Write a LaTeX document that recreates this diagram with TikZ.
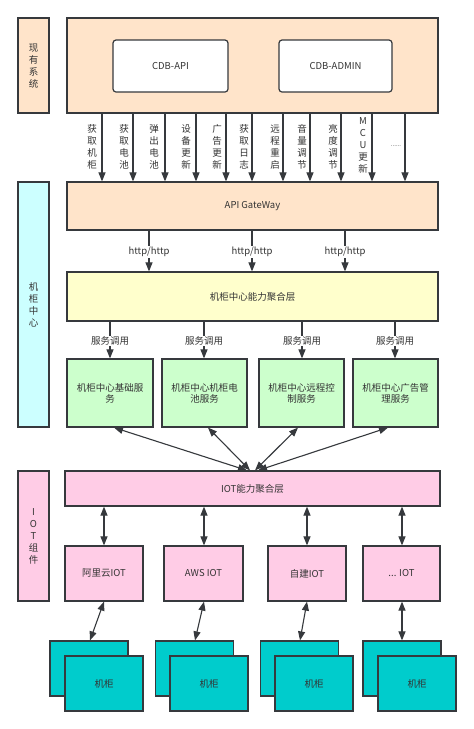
\documentclass[tikz,border=0pt]{standalone}
\usepackage{fontspec}
\setmainfont{Noto Sans CJK SC}
\usetikzlibrary{arrows.meta}
\definecolor{bd}{HTML}{36393D}
\definecolor{tx}{HTML}{333333}
\definecolor{peach}{HTML}{FFE4CA}
\definecolor{cyanl}{HTML}{CCFFFF}
\definecolor{yell}{HTML}{FFFFCC}
\definecolor{greenl}{HTML}{CCFFCC}
\definecolor{pinkl}{HTML}{FFCCE6}
\definecolor{teal2}{HTML}{00CCCC}
\tikzset{
  bx/.style={draw=bd, line width=1.2pt, inner sep=0pt, text=tx, align=center,
    font=\fontsize{9.5}{11}\selectfont},
  vlab/.style={text=tx, inner sep=1pt, align=center, font=\fontsize{9.5}{12}\selectfont},
  lab/.style={text=tx, fill=white, inner sep=1pt, font=\fontsize{9.5}{11}\selectfont},
  arr/.style={draw=bd, line width=1.1pt, -{Triangle[length=9pt,width=7pt]}},
  darr/.style={draw=bd, line width=1.1pt, {Triangle[length=9pt,width=7pt]}-{Triangle[length=9pt,width=7pt]}},
}
\begin{document}
\begin{tikzpicture}[x=1pt,y=-1pt]
\useasboundingbox[fill=white] (0,0) rectangle (474,729);
% --- left labels
\node[bx, fill=peach, minimum width=31pt, minimum height=95pt] (sys) at (33.5,65.5) {};
\node[vlab] (syst) at (33.5,66) {现\\有\\系\\统};
\node[bx, fill=cyanl, minimum width=31pt, minimum height=245pt] (ctr) at (33.5,304.5) {};
\node[vlab] (ctrt) at (33.5,305) {机\\柜\\中\\心};
\node[bx, fill=pinkl, minimum width=31pt, minimum height=130pt] (iotl) at (33.5,536) {};
\node[vlab] (iotlt) at (33.5,536) {I\\O\\T\\组\\件};
% --- top system
\node[bx, fill=peach, minimum width=371pt, minimum height=95pt] (top) at (252.5,65.5) {};
\node[bx, fill=white, rounded corners=3pt, minimum width=115pt, minimum height=52pt] (api) at (170.5,66) {CDB-API};
\node[bx, fill=white, rounded corners=3pt, minimum width=113pt, minimum height=52pt] (adm) at (335.5,66) {CDB-ADMIN};
% --- gateway
\node[bx, fill=peach, minimum width=371pt, minimum height=48pt] (gw) at (252.5,206) {API GateWay};
% --- arrows top -> gateway
\foreach \xx in {102,133,165,196,226,252,283,310,341,372,405}{
  \draw[arr] (top.south -| \xx,0) -- (gw.north -| \xx,0);
}
\node[vlab] (l1) at (92,147) {获\\取\\机\\柜};
\node[vlab] (l2) at (124,147) {获\\取\\电\\池};
\node[vlab] (l3) at (154,147) {弹\\出\\电\\池};
\node[vlab] (l4) at (186,147) {设\\备\\更\\新};
\node[vlab] (l5) at (217,147) {广\\告\\更\\新};
\node[vlab] (l6) at (244,147) {获\\取\\日\\志};
\node[vlab] (l7) at (275,147) {远\\程\\重\\启};
\node[vlab] (l8) at (302,147) {音\\量\\调\\节};
\node[vlab] (l9) at (333,147) {亮\\度\\调\\节};
\node[vlab] (l10) at (363,145) {M\\C\\U\\更\\新};
\node[vlab, font=\fontsize{6}{7}\selectfont] (l11) at (396,146) {......};
% --- aggregation layer
\node[bx, fill=yell, minimum width=371pt, minimum height=49pt] (agg) at (252.5,296.5) {机柜中心能力聚合层};
\foreach \xx [count=\i] in {149,252,345}{
  \draw[arr] (gw.south -| \xx,0) -- (agg.north -| \xx,0);
  \node[lab] (h\i) at (\xx,252) {http/http};
}
% --- services
\node[bx, fill=greenl, minimum width=86pt, minimum height=68pt] (s1) at (110,393) {机柜中心基础服\\务};
\node[bx, fill=greenl, minimum width=85pt, minimum height=68pt] (s2) at (204.5,393) {机柜中心机柜电\\池服务};
\node[bx, fill=greenl, minimum width=85pt, minimum height=68pt] (s3) at (301.5,393) {机柜中心远程控\\制服务};
\node[bx, fill=greenl, minimum width=85pt, minimum height=68pt] (s4) at (395.5,393) {机柜中心广告管\\理服务};
\foreach \xx/\n in {110/s1,204/s2,302/s3,395/s4}{
  \draw[arr] (agg.south -| \xx,0) -- (\n.north -| \xx,0);
  \node[lab] (f\n) at (\xx,341) {服务调用};
}
% --- IOT layer
\node[bx, fill=pinkl, minimum width=375pt, minimum height=35pt] (iot) at (252.5,488.5) {IOT能力聚合层};
\draw[darr] (s1.south -| 114,0) -- (iot.north -| 247,0);
\draw[darr] (s2.south -| 208,0) -- (iot.north -| 250,0);
\draw[darr] (s3.south -| 298,0) -- (iot.north -| 255,0);
\draw[darr] (s4.south -| 388,0) -- (iot.north -| 258,0);
% --- IOT providers
\node[bx, fill=pinkl, minimum width=78pt, minimum height=55pt] (i1) at (104,573.5) {阿里云IOT};
\node[bx, fill=pinkl, minimum width=79pt, minimum height=55pt] (i2) at (203.5,573.5) {AWS IOT};
\node[bx, fill=pinkl, minimum width=78pt, minimum height=55pt] (i3) at (307,573.5) {自建IOT};
\node[bx, fill=pinkl, minimum width=77pt, minimum height=55pt] (i4) at (401.5,573.5) {... IOT};
\foreach \xx/\n in {104/i1,204/i2,307/i3,402/i4}{
  \draw[darr] (iot.south -| \xx,0) -- (\n.north -| \xx,0);
}
% --- cabinets
\foreach \bx/\fx/\n in {89/104/1,194.5/209/2,299.5/314/3,402/417/4}{
  \node[bx, fill=teal2, minimum width=78pt, minimum height=55pt] (c\n b) at (\bx,668.5) {};
  \node[bx, fill=teal2, minimum width=78pt, minimum height=55pt] (c\n f) at (\fx,683.5) {机柜};
}
\draw[darr] (i1.south -| 104,0) -- (c1b.north -| 90,0);
\draw[darr] (i2.south -| 204,0) -- (c2b.north -| 195,0);
\draw[darr] (i3.south -| 307,0) -- (c3b.north -| 300,0);
\draw[darr] (i4.south -| 402,0) -- (c4b.north -| 402,0);
\end{tikzpicture}
\end{document}
